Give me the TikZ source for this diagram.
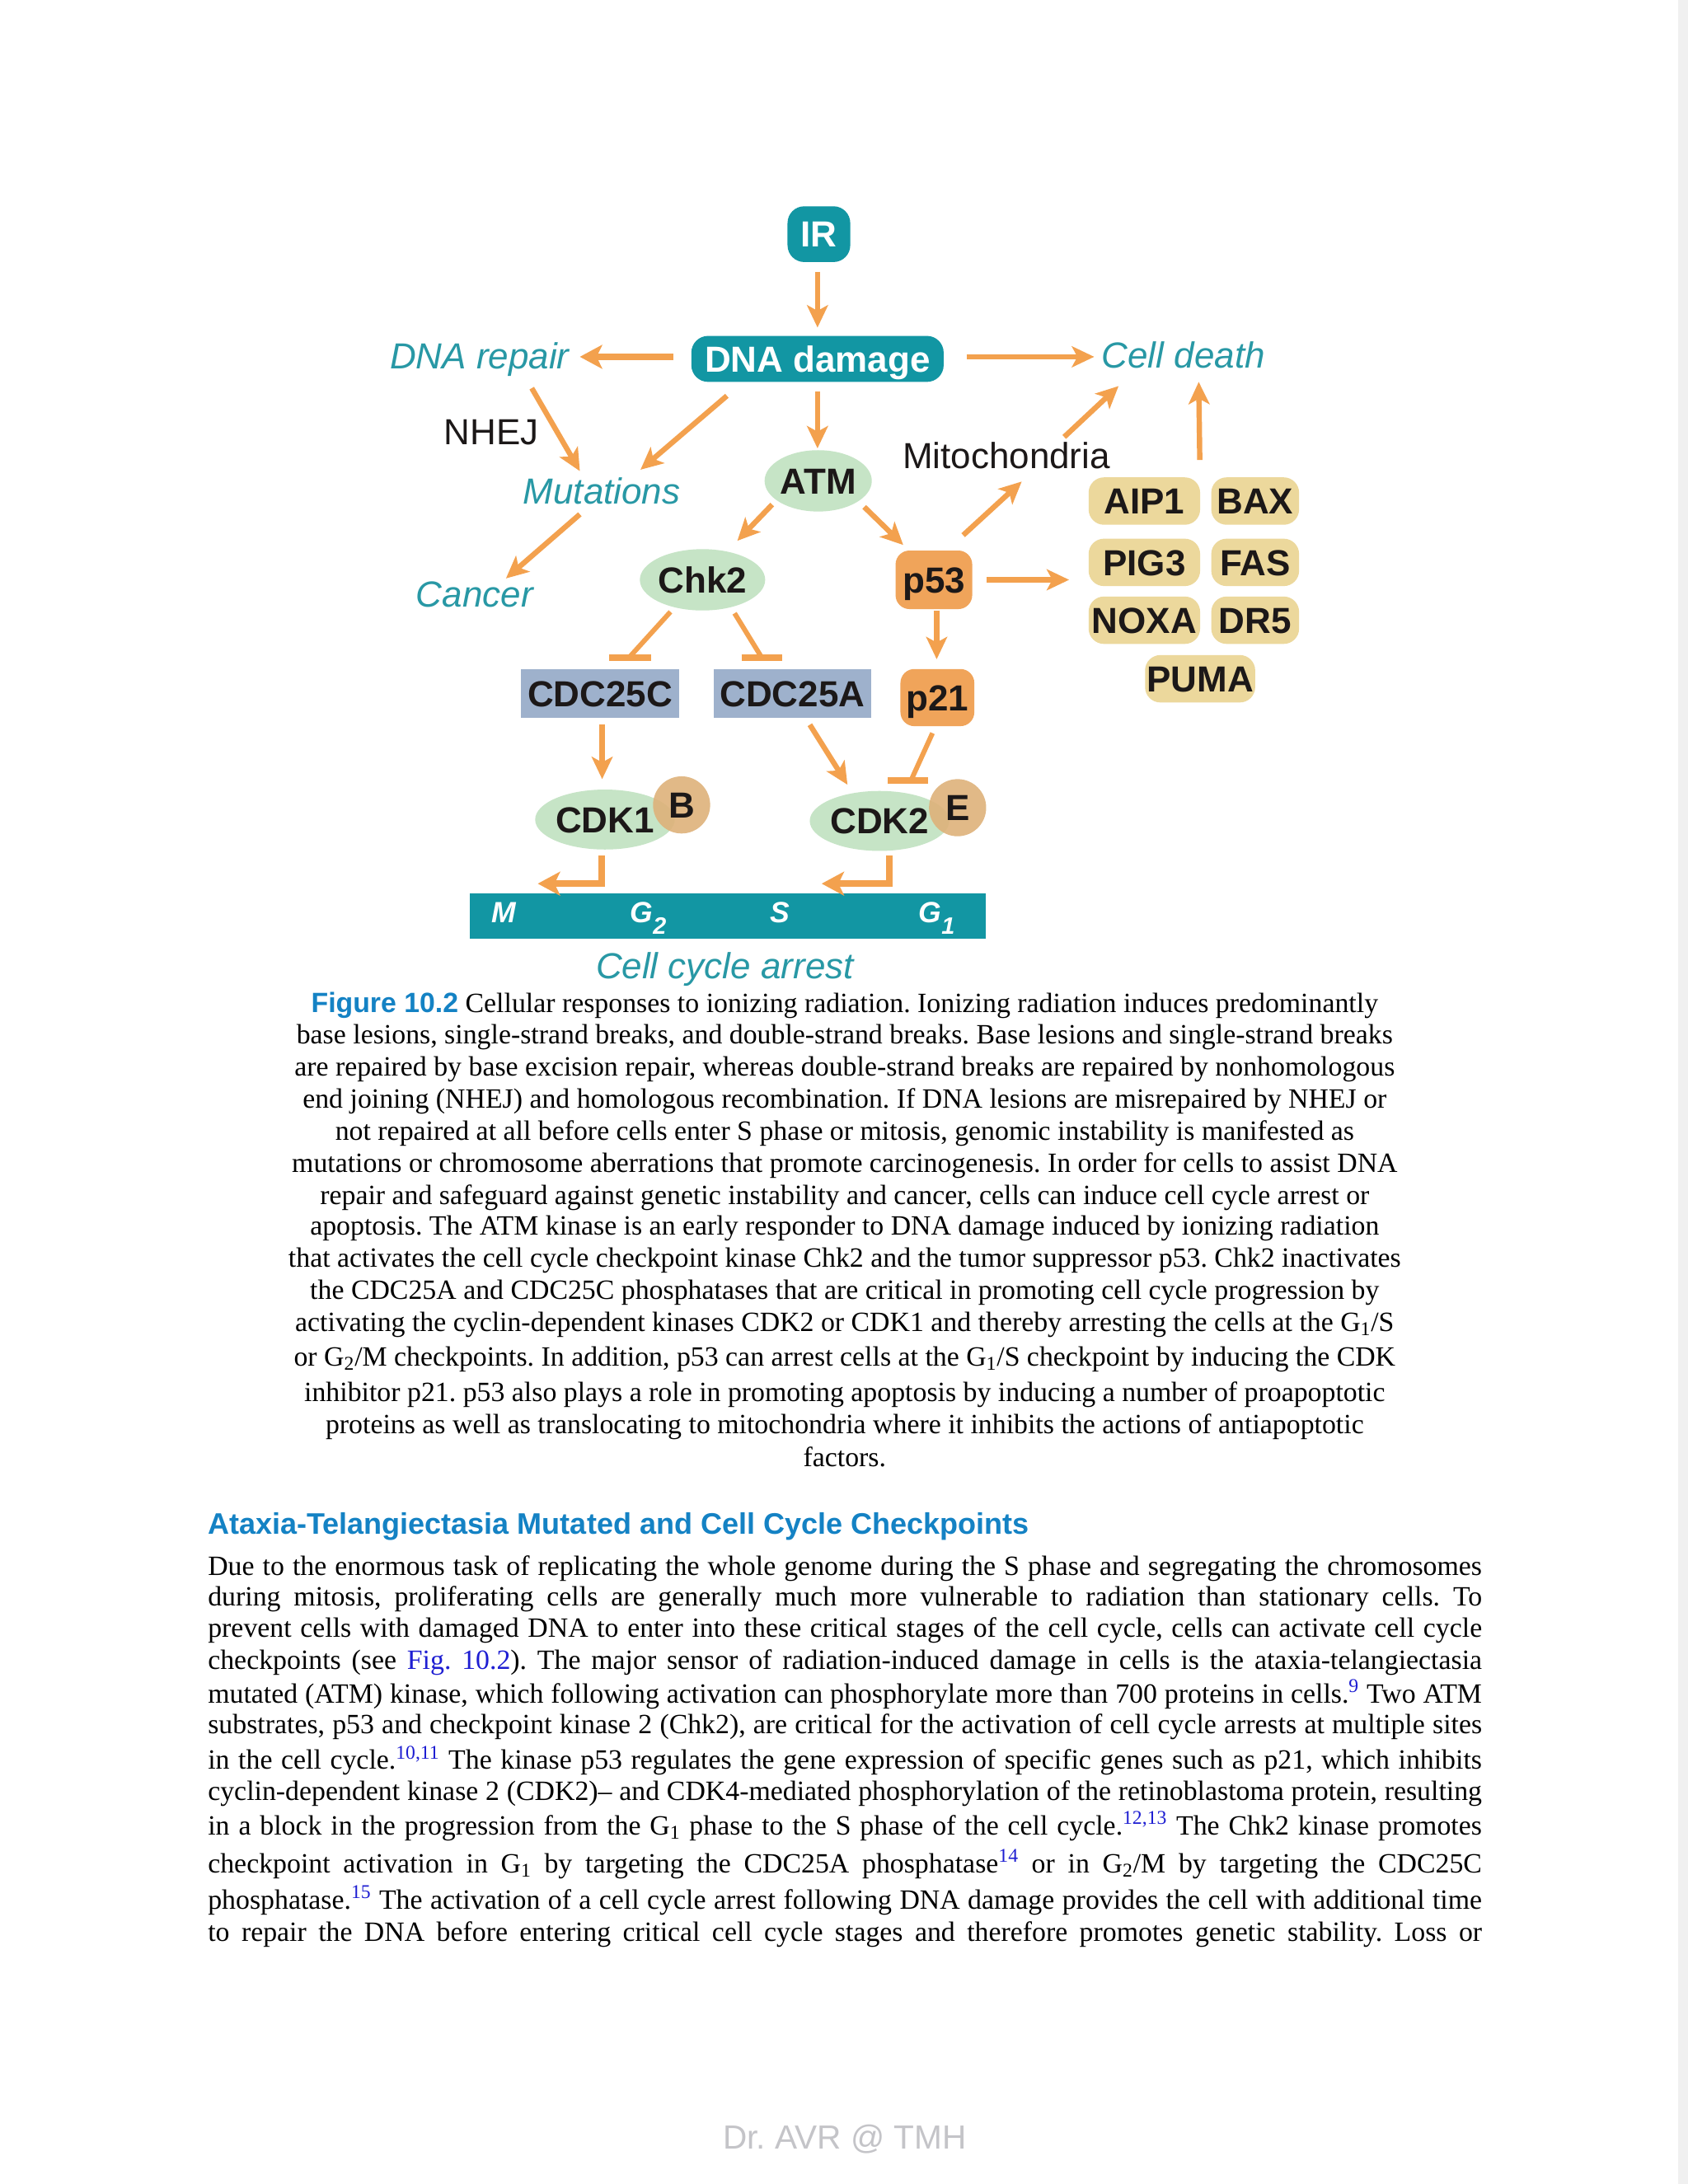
\documentclass[tikz,border=0pt]{standalone}
\usepackage{fontspec}
\setmainfont{Liberation Serif}
\setsansfont{Liberation Sans}
\newfontfamily\dgf{Liberation Sans}
\usetikzlibrary{arrows.meta,shapes.geometric,calc}
\definecolor{teal1}{RGB}{18,150,163}
\definecolor{tealtxt}{RGB}{40,152,165}
\definecolor{orng}{RGB}{243,161,78}
\definecolor{grn}{RGB}{198,228,198}
\definecolor{orbox}{RGB}{240,164,90}
\definecolor{tan1}{RGB}{236,216,156}
\definecolor{cycc}{RGB}{222,178,122}
\definecolor{cdc}{RGB}{158,177,204}
\definecolor{capblue}{RGB}{20,130,196}
\definecolor{linkblue}{RGB}{30,30,210}
\definecolor{wm}{RGB}{196,196,200}
\definecolor{txtblack}{RGB}{28,24,24}
\newcommand{\rsup}[1]{\textsuperscript{\color{linkblue}#1}}
\newcommand{\rsub}[1]{\textsubscript{#1}}
\newcommand{\bline}[1]{\makebox[914pt][s]{#1}}
\newcommand{\phsub}[1]{\raisebox{-8pt}{\fontsize{17}{17}\selectfont #1}}
\frenchspacing
\tikzset{
  lab/.style={inner sep=0pt, text height=18.6pt, text depth=0pt, font=\dgf\fontsize{26}{26}\selectfont, text=txtblack},
  ilab/.style={lab, font=\dgf\itshape\fontsize{26}{26}\selectfont, text=tealtxt},
  boxl/.style={lab, font=\dgf\bfseries\fontsize{26}{26}\selectfont},
  tealbox/.style={boxl, fill=teal1, text=white, rounded corners=12pt},
  gell/.style={boxl, ellipse, fill=grn},
  obox/.style={boxl, fill=orbox, rounded corners=10pt},
  tbox/.style={boxl, fill=tan1, rounded corners=11pt, minimum height=34pt},
  cbox/.style={boxl, fill=cdc, minimum width=113pt, minimum height=35pt},
  cyc/.style={boxl, circle, fill=cycc, fill opacity=0.9, text opacity=1, minimum size=41pt},
  phl/.style={inner sep=0pt, text height=15.8pt, text depth=0pt, font=\dgf\bfseries\itshape\fontsize{21}{21}\selectfont, text=white},
  arr/.style={draw=orng, line width=3.8pt, -{Stealth[length=16pt,width=15pt,inset=4pt]}},
  arrb/.style={arr, line width=5pt, -{Stealth[length=16pt,width=17pt,inset=4pt]}},
  inh/.style={draw=orng, line width=3.5pt},
  barl/.style={draw=orng, line width=4.5pt},
  capl/.style={anchor=base, inner sep=0pt, font=\fontsize{20}{23}\selectfont},
  bodyl/.style={anchor=base west, inner sep=0pt, font=\fontsize{20}{23}\selectfont},
}
\begin{document}
\begin{tikzpicture}[x=1pt,y=-1pt]
\useasboundingbox (0,0) rectangle (1211,1567);
\fill[white] (0,0) rectangle (1211,1567);
\fill[black!6] (1204,0) rectangle (1211,1567);

% nodes
\node[tealbox, minimum width=45pt, minimum height=40pt] (ir) at (587.5,168) {IR};
\node[tealbox, minimum width=181pt, minimum height=33pt] (dna) at (586.5,257.5) {DNA damage};
\node[ilab] (repair) at (344,255.5) {DNA repair};
\node[ilab] (death) at (849,255) {Cell death};
\node[lab] (nhej) at (352.5,309.5) {NHEJ};
\node[ilab] (mut) at (431.7,352) {Mutations};
\node[lab] (mito) at (722,327) {Mitochondria};
\node[ilab] (cancer) at (340.5,426) {Cancer};
\node[gell, minimum width=76pt, minimum height=44pt] (atm) at (587,345) {ATM};
\node[gell, minimum width=76pt, minimum height=44pt] (chk2) at (504,416) {Chk2};
\node[obox, minimum width=55pt, minimum height=42pt] (p53) at (670,416) {p53};
\node[obox, minimum width=53pt, minimum height=41pt] (p21) at (672.5,500.5) {p21};
\node[tbox, minimum width=80pt] (aip1) at (821,359.5) {AIP1};
\node[tbox, minimum width=63pt] (bax) at (900.5,359.5) {BAX};
\node[tbox, minimum width=80pt] (pig3) at (821,403.5) {PIG3};
\node[tbox, minimum width=63pt] (fas) at (900.5,403.5) {FAS};
\node[tbox, minimum width=80pt] (noxa) at (821,445) {NOXA};
\node[tbox, minimum width=63pt] (dr5) at (900.5,445) {DR5};
\node[tbox, minimum width=79pt] (puma) at (861,487) {PUMA};
\node[cbox] (cdcc) at (430.5,497.5) {CDC25C};
\node[cbox] (cdca) at (568.5,497.5) {CDC25A};
\node[gell, minimum width=87pt, minimum height=43pt] (cdk1) at (434,588) {CDK1};
\node[gell, minimum width=85pt, minimum height=43pt] (cdk2) at (631,589) {CDK2};
\node[cyc] (cycb) at (489,577.5) {B};
\node[cyc] (cyce) at (687,579.5) {E};
\node[fill=teal1, minimum width=370pt, minimum height=32.5pt, inner sep=0pt] (phase) at (522,657) {};
\node[phl, anchor=base] (pm) at (361.5,662) {M};
\node[phl, anchor=base west] (pg2) at (452,662) {G\phsub{2}};
\node[phl, anchor=base] (ps) at (559.6,662) {S};
\node[phl, anchor=base west] (pg1) at (659,662) {G\phsub{1}};
\node[ilab] (arrest) at (520,693) {Cell cycle arrest};

% connectors
\draw[arr] ($(ir)+(-1,27)$) -- ($(dna)+(0,-22.5)$);
\draw[arrb] ($(dna)+(-103.6,-1.5)$) -- ($(repair)+(72,0.5)$);
\draw[arr] ($(dna)+(107,-1.5)$) -- ($(death)+(-64,1)$);
\draw[arr] ($(repair)+(37.5,23)$) -- ($(mut)+(-15.7,-14)$);
\draw[arr] ($(dna)+(-65,26.5)$) -- ($(mut)+(27.8,-15)$);
\draw[arr] ($(dna)+(0,23.5)$) -- ($(atm)+(-0.5,-23.3)$);
\draw[arr] ($(mito)+(41.5,-13.5)$) -- ($(death)+(-46.5,22)$);
\draw[arr] ($(aip1)!0.5!(bax)+(0,-29.5)$) -- ($(death)+(11,19)$);
\draw[arr] ($(mut)+(-15.7,17)$) -- ($(cancer)+(22.5,-11)$);
\draw[arr] ($(atm)+(-33,17)$) -- ($(chk2)+(25,-28)$);
\draw[arr] ($(atm)+(33,18.7)$) -- ($(p53)+(-22,-25)$);
\draw[arr] ($(p53)+(21,-32)$) -- ($(mito)+(11,18.5)$);
\draw[arr] ($(p53)+(38,0)$) -- ($(pig3)+(-54,12.5)$);
\draw[inh] ($(chk2)+(-23,23)$) -- ($(cdcc)+(21.5,-26.5)$);
\draw[barl] ($(cdcc)+(6.5,-25.5)$) -- ($(cdcc)+(36.5,-25.5)$);
\draw[inh] ($(chk2)+(23,24)$) -- ($(cdca)+(-22.5,-26.5)$);
\draw[barl] ($(cdca)+(-36.5,-25.5)$) -- ($(cdca)+(-7.5,-25.5)$);
\draw[arr] ($(p53)+(2,22)$) -- ($(p21)+(-0.5,-27.5)$);
\draw[arr] ($(cdcc)+(1.5,22.5)$) -- ($(cdk1)+(-2,-29)$);
\draw[arr] ($(cdca)+(12.5,22.5)$) -- ($(cdk2)+(-23,-26)$);
\draw[inh] ($(p21)+(-3.5,25.5)$) -- ($(cdk2)+(23,-30)$);
\draw[barl] ($(cdk2)+(6,-29)$) -- ($(cdk2)+(35,-29)$);
\draw[arrb] ($(cdk1)+(-2.5,26)$) |- ($(phase)+(-136.2,-23)$);
\draw[arrb] ($(cdk2)+(7,25)$) |- ($(phase)+(67.5,-23)$);

% caption
\node[capl] (c1) at (606,726.5) {{\sffamily\bfseries\color{capblue}Figure 10.2} Cellular responses to ionizing radiation. Ionizing radiation induces predominantly};
\node[capl] (c2) at (606,749) {base lesions, single-strand breaks, and double-strand breaks. Base lesions and single-strand breaks};
\node[capl] (c3) at (606,772) {are repaired by base excision repair, whereas double-strand breaks are repaired by nonhomologous};
\node[capl] (c4) at (606,795) {end joining (NHEJ) and homologous recombination. If DNA lesions are misrepaired by NHEJ or};
\node[capl] (c5) at (606,818) {not repaired at all before cells enter S phase or mitosis, genomic instability is manifested as};
\node[capl] (c6) at (606,841) {mutations or chromosome aberrations that promote carcinogenesis. In order for cells to assist DNA};
\node[capl] (c7) at (606,864) {repair and safeguard against genetic instability and cancer, cells can induce cell cycle arrest or};
\node[capl] (c8) at (606,886) {apoptosis. The ATM kinase is an early responder to DNA damage induced by ionizing radiation};
\node[capl] (c9) at (606,909) {that activates the cell cycle checkpoint kinase Chk2 and the tumor suppressor p53. Chk2 inactivates};
\node[capl] (c10) at (606,932) {the CDC25A and CDC25C phosphatases that are critical in promoting cell cycle progression by};
\node[capl] (c11) at (606,955) {activating the cyclin-dependent kinases CDK2 or CDK1 and thereby arresting the cells at the G\rsub{1}/S};
\node[capl] (c12) at (606,980) {or G\rsub{2}/M checkpoints. In addition, p53 can arrest cells at the G\rsub{1}/S checkpoint by inducing the CDK};
\node[capl] (c13) at (606,1005.5) {inhibitor p21. p53 also plays a role in promoting apoptosis by inducing a number of proapoptotic};
\node[capl] (c14) at (606,1028.5) {proteins as well as translocating to mitochondria where it inhibits the actions of antiapoptotic};
\node[capl] (c15) at (606,1052) {factors.};

% heading and body
\node[anchor=base west, inner sep=0pt, font=\sffamily\bfseries\fontsize{21.3}{24}\selectfont, text=capblue] (hd) at (149,1100.5) {Ataxia-Telangiectasia Mutated and Cell Cycle Checkpoints};
\node[bodyl] (b1) at (149,1130) {\bline{Due to the enormous task of replicating the whole genome during the S phase and segregating the chromosomes}};
\node[bodyl] (b2) at (149,1152.2) {\bline{during mitosis, proliferating cells are generally much more vulnerable to radiation than stationary cells. To}};
\node[bodyl] (b3) at (149,1174.6) {\bline{prevent cells with damaged DNA to enter into these critical stages of the cell cycle, cells can activate cell cycle}};
\node[bodyl] (b4) at (149,1197.6) {\bline{checkpoints (see {\color{linkblue}Fig. 10.2}). The major sensor of radiation-induced damage in cells is the ataxia-telangiectasia}};
\node[bodyl] (b5) at (149,1221.9) {\bline{mutated (ATM) kinase, which following activation can phosphorylate more than 700 proteins in cells.\rsup{9} Two ATM}};
\node[bodyl] (b6) at (149,1244) {\bline{substrates, p53 and checkpoint kinase 2 (Chk2), are critical for the activation of cell cycle arrests at multiple sites}};
\node[bodyl] (b7) at (149,1269.4) {\bline{in the cell cycle.\rsup{10,11} The kinase p53 regulates the gene expression of specific genes such as p21, which inhibits}};
\node[bodyl] (b8) at (149,1292) {\bline{cyclin-dependent kinase 2 (CDK2)– and CDK4-mediated phosphorylation of the retinoblastoma protein, resulting}};
\node[bodyl] (b9) at (149,1316.4) {\bline{in a block in the progression from the G\rsub{1} phase to the S phase of the cell cycle.\rsup{12,13} The Chk2 kinase promotes}};
\node[bodyl] (b10) at (149,1343.5) {\bline{checkpoint activation in G\rsub{1} by targeting the CDC25A phosphatase\rsup{14} or in G\rsub{2}/M by targeting the CDC25C}};
\node[bodyl] (b11) at (149,1369.7) {\bline{phosphatase.\rsup{15} The activation of a cell cycle arrest following DNA damage provides the cell with additional time}};
\node[bodyl] (b12) at (149,1393) {\bline{to repair the DNA before entering critical cell cycle stages and therefore promotes genetic stability. Loss or}};

% watermark
\node[inner sep=0pt, text height=17.2pt, text depth=0pt, font=\dgf\fontsize{24}{24}\selectfont, text=wm] (wmk) at (606,1533) {Dr. AVR @ TMH};
\end{tikzpicture}
\end{document}
